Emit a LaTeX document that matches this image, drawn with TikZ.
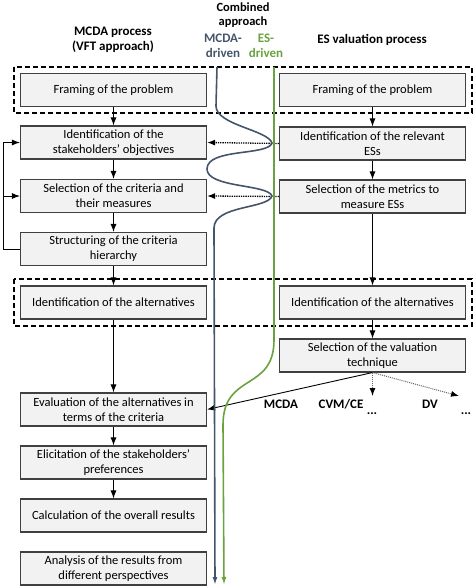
\documentclass[tikz,border=0pt]{standalone}
\usepackage{fontspec}
\setmainfont{Carlito}
\usetikzlibrary{arrows.meta}
\definecolor{mcdablue}{HTML}{44546A}
\definecolor{esgreen}{HTML}{6AA23F}
\definecolor{boxfill}{HTML}{F2F2F2}
\tikzset{
  stagebox/.style={draw=black!75,line width=1.1pt,fill=boxfill,minimum width=186pt,
    minimum height=33pt,align=center,inner sep=1pt,font=\fontsize{12.5}{15}\selectfont},
  head/.style={font=\bfseries\fontsize{13}{15.5}\selectfont,align=center,inner sep=0pt},
  arr/.style={line width=0.9pt,-{Latex[length=8pt,width=6pt]}},
  dotarr/.style={line width=1.3pt,densely dotted,-{Latex[length=8pt,width=6pt]}},
  grayarr/.style={line width=1pt,densely dotted,draw=black!60,-{Latex[length=8pt,width=6pt,fill=black,color=black]}},
  frame/.style={line width=1.1pt,dash pattern=on 5pt off 3pt},
  pathline/.style={line width=1.6pt,-{Latex[length=8pt,width=5pt]}}
}
\begin{document}
\begin{tikzpicture}[x=1pt,y=-1pt]
  \useasboundingbox (0,0) rectangle (474,587);
  %%%%%%%%%%%%%Headings%%%%%%%%%%%%%%%%%%%%%%
  \node[head] (mcdahead) at (113,40) {MCDA process\\(VFT approach)};
  \node[head,font=\bfseries\fontsize{12.5}{14}\selectfont] (combhead) at (243,15) {Combined\\approach};
  \node[head,text=mcdablue] (mcdadrv) at (223,46) {MCDA-\\driven};
  \node[head,text=esgreen] (esdrv) at (266,46) {ES-\\driven};
  \node[head] (eshead) at (372,40) {ES valuation process};

  %%%%%%%%%%%%%Dashed frames%%%%%%%%%%%%%%%%%%%%%%
  \draw[frame] (14,67) rectangle (472,113);
  \draw[frame] (14,279) rectangle (472,326);

  %%%%%%%%%%%%%MCDA process%%%%%%%%%%%%%%%%%%%%%%
  \node[stagebox] (mframe) at (113.5,90) {Framing of the problem};
  \node[stagebox] (mobj) at (113.5,142.5) {Identification of the\\stakeholders’ objectives};
  \node[stagebox] (mcrit) at (113.5,196) {Selection of the criteria and\\their measures};
  \node[stagebox] (mstruct) at (113.5,249) {Structuring of the criteria\\hierarchy};
  \node[stagebox] (malt) at (113.5,302.5) {Identification of the alternatives};
  \node[stagebox] (meval) at (113.5,409.5) {Evaluation of the alternatives in\\terms of the criteria};
  \node[stagebox] (mpref) at (113.5,462.5) {Elicitation of the stakeholders’\\preferences};
  \node[stagebox] (mcalc) at (113.5,515.5) {Calculation of the overall results};
  \node[stagebox] (manal) at (113.5,568.5) {Analysis of the results from\\different perspectives};

  \draw[arr] (mframe) -- (mobj);
  \draw[arr] (mobj) -- (mcrit);
  \draw[arr] (mcrit) -- (mstruct);
  \draw[arr] (mstruct) -- (malt);
  \draw[arr] (malt) -- (meval);
  \draw[arr] (meval) -- (mpref);
  \draw[arr] (mpref) -- (mcalc);

  % feedback loop
  \coordinate (loop) at (3,249);
  \draw[line width=0.9pt] (mstruct.west) -- (loop);
  \draw[arr] (loop) |- (mobj.west);
  \draw[arr] (loop) |- (mcrit.west);

  %%%%%%%%%%%%%ES valuation process%%%%%%%%%%%%%%%%%%%%%%
  \node[stagebox] (eframe) at (372.5,90) {Framing of the problem};
  \node[stagebox] (eobj) at (372.5,143.5) {Identification of the relevant\\ESs};
  \node[stagebox] (emetr) at (372.5,196.5) {Selection of the metrics to\\measure ESs};
  \node[stagebox] (ealt) at (372.5,302.5) {Identification of the alternatives};
  \node[stagebox] (etech) at (372.5,355.5) {Selection of the valuation\\technique};

  \draw[arr] (eframe) -- (eobj);
  \draw[arr] (eobj) -- (emetr);
  \draw[arr] (emetr) -- (ealt);
  \draw[arr] (ealt) -- (etech);

  \draw[dotarr] (eobj.west) -- (mobj.east);
  \draw[dotarr] (emetr.west) -- (mcrit.east);

  % valuation techniques
  \coordinate (cvmend) at (372.5,396);
  \coordinate (dvend) at (459,396);
  \draw[arr] (etech.south) -- (meval.east);
  \draw[grayarr] (etech.south) -- (cvmend);
  \draw[grayarr] (etech.south) -- (dvend);
  \node[head] (mcdalbl) at (281,404) {MCDA};
  \node[head] (cvmlbl) at (341,404) {CVM/CE};
  \node[head] (dvlbl) at (430,404) {DV};
  \node[head] (cvmdots) at (372,414) {...};
  \node[head] (dvdots) at (466,414) {...};

  %%%%%%%%%%%%%Combined approach paths%%%%%%%%%%%%%%%%%%%%%%
  \draw[pathline,esgreen] (274,67) -- (274,340)
    .. controls (274,392) and (223,372) .. (223,425) -- (224,585);
  \draw[pathline,mcdablue] (217,67) -- (216,106)
    .. controls (216,125) and (268,130) .. (272,143)
    .. controls (268,156) and (207,148) .. (207,169)
    .. controls (207,188) and (268,184) .. (272,196)
    .. controls (268,209) and (214,205) .. (214,228) -- (215,585);
\end{tikzpicture}
\end{document}
